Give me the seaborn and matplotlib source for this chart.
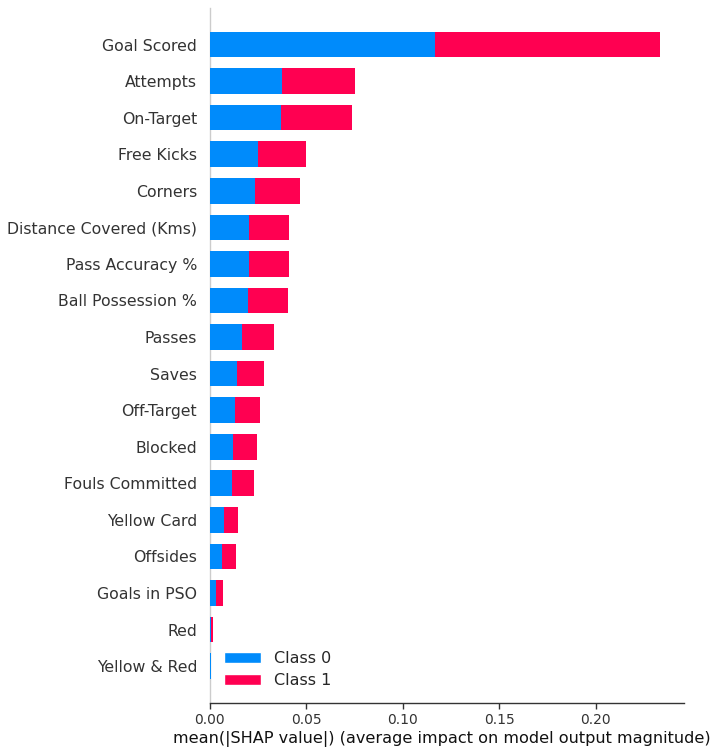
import matplotlib
matplotlib.use("Agg")
import matplotlib.pyplot as plt
import seaborn as sns
import pandas as pd
from matplotlib.patches import Patch

features = ["Goal Scored", "Attempts", "On-Target", "Free Kicks", "Corners",
            "Distance Covered (Kms)", "Pass Accuracy %", "Ball Possession %",
            "Passes", "Saves", "Off-Target", "Blocked", "Fouls Committed",
            "Yellow Card", "Offsides", "Goals in PSO", "Red", "Yellow & Red"]
class0 = [0.1168, 0.0374, 0.0369, 0.0249, 0.0235, 0.0205, 0.0205, 0.0198,
          0.0167, 0.0141, 0.0129, 0.0122, 0.0115, 0.0072, 0.0064, 0.0034,
          0.0005, 0.0008]
class1 = [0.1166, 0.0380, 0.0366, 0.0251, 0.0234, 0.0207, 0.0207, 0.0209,
          0.0164, 0.0139, 0.0133, 0.0121, 0.0116, 0.0076, 0.0071, 0.0033,
          0.0011, 0.0000]
class_labels = ["Class 0", "Class 1"]
xticks = [0.00, 0.05, 0.10, 0.15, 0.20]

blue = "#008bfb"
red = "#ff0051"

df = pd.DataFrame({"feature": features, "c0": class0, "c1": class1})
df["total"] = df["c0"] + df["c1"]

sns.set_style("white")
plt.rcParams["font.family"] = ["DejaVu Sans"]

fig = plt.figure(figsize=(7.19, 7.52), dpi=100)
ax = fig.add_axes([0.2917, 0.0656, 0.6596, 0.9238])

sns.barplot(data=df, x="total", y="feature", color=red, saturation=1,
            width=0.7, linewidth=0, ax=ax, orient="h")
sns.barplot(data=df, x="c0", y="feature", color=blue, saturation=1,
            width=0.7, linewidth=0, ax=ax, orient="h")

ax.set_ylim(len(features), -1)
ax.set_xlim(0, 0.2456)
ax.set_xticks(xticks)
ax.set_xticklabels([f"{t:.2f}" for t in xticks])
ax.set_ylabel("")
ax.set_xlabel("mean(|SHAP value|) (average impact on model output magnitude)",
              fontsize=11.6, color="#111111", labelpad=3)
ax.xaxis.label.set_x(0.489)

for s in ["top", "right"]:
    ax.spines[s].set_visible(False)
ax.spines["left"].set_color("#cccccc")
ax.spines["bottom"].set_color("#333333")
ax.spines["left"].set_linewidth(1.0)
ax.spines["bottom"].set_linewidth(1.0)
ax.spines["left"].set_zorder(0.5)

ax.tick_params(axis="y", length=0, labelsize=11.3, labelcolor="#333333", pad=9)
ax.tick_params(axis="x", length=4, width=1, color="#333333", labelsize=10,
               labelcolor="#333333", bottom=True, direction="out")

handles = [Patch(facecolor=blue, label=class_labels[0]),
           Patch(facecolor=red, label=class_labels[1])]
ax.legend(handles=handles, loc="lower left", frameon=False, fontsize=11.5,
          bbox_to_anchor=(0.0, 0.0), handlelength=2.3, labelspacing=0.45)

fig.savefig("out.png", dpi=100)
